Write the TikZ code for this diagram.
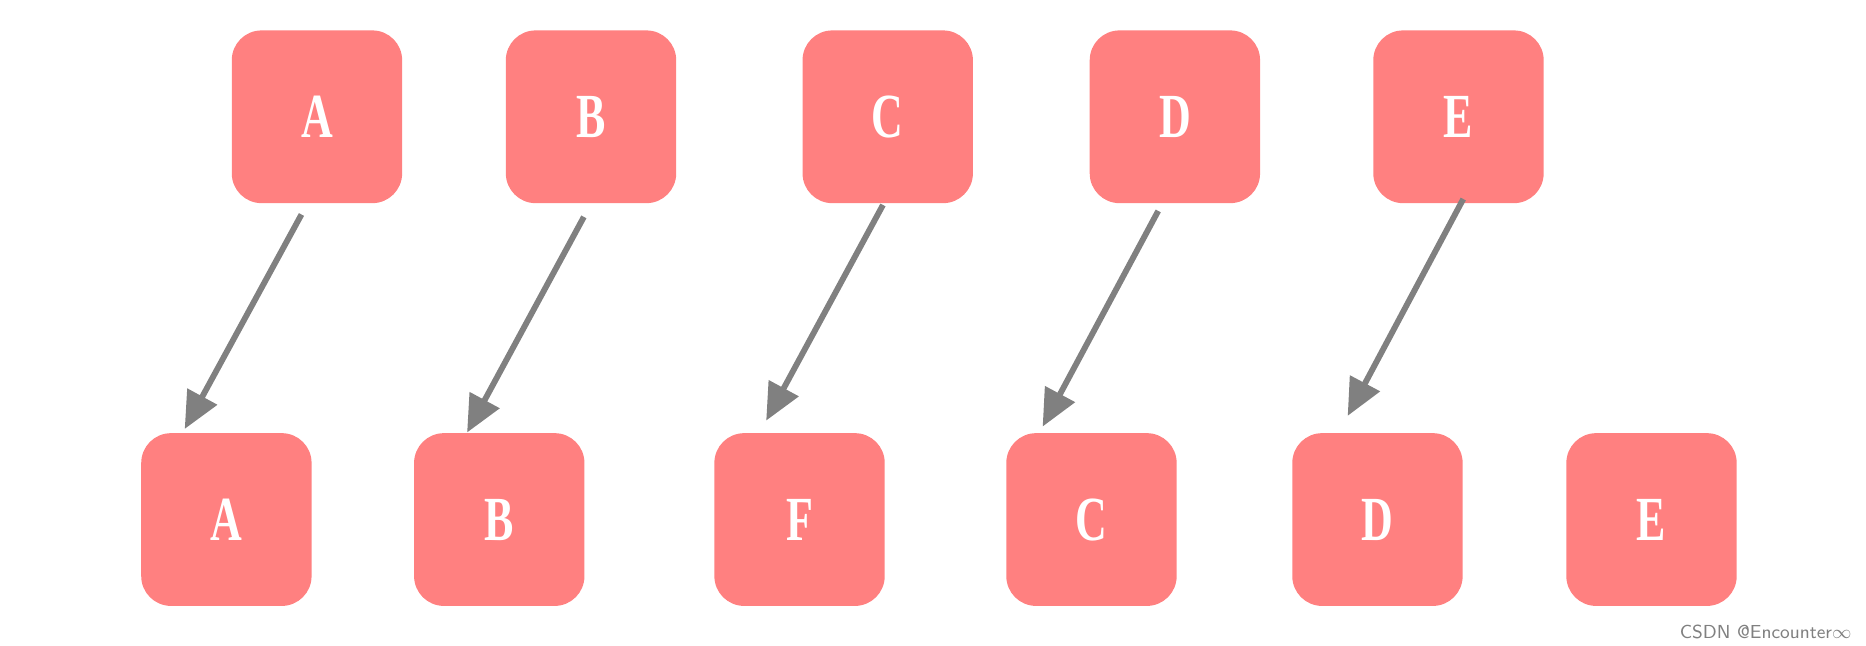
\documentclass[tikz,border=0pt]{standalone}
\usepackage{fontspec}
\setmainfont{Liberation Serif}
\usetikzlibrary{arrows.meta,calc}
\definecolor{boxred}{HTML}{FF8080}
\definecolor{arrgray}{HTML}{808080}
\begin{document}
\begin{tikzpicture}[x=0.02cm,y=-0.02cm,
  box/.style={fill=boxred,draw=none,rounded corners=0.5cm,minimum width=2.86cm,minimum height=2.9cm,inner sep=0pt,text=white,font=\fontsize{30}{30}\selectfont\bfseries},
  lbl/.style={xscale=0.75},
  arr/.style={draw=arrgray,line width=2.8pt,-{Triangle[length=0.62cm,width=0.55cm]}}]
\useasboundingbox (0,0) rectangle (1566,542);
\node[box] (ta) at (266,98) {\scalebox{0.7}[1]{A}};
\node[box] (tb) at (496,98) {\scalebox{0.7}[1]{B}};
\node[box] (tc) at (745,98) {\scalebox{0.7}[1]{C}};
\node[box] (td) at (986,98) {\scalebox{0.7}[1]{D}};
\node[box] (te) at (1224,98) {\scalebox{0.7}[1]{E}};
\node[box] (ba) at (190,436) {\scalebox{0.7}[1]{A}};
\node[box] (bb) at (419,436) {\scalebox{0.7}[1]{B}};
\node[box] (bf) at (671,436) {\scalebox{0.7}[1]{F}};
\node[box] (bc) at (916,436) {\scalebox{0.7}[1]{C}};
\node[box] (bd) at (1156,436) {\scalebox{0.7}[1]{D}};
\node[box] (be) at (1386,436) {\scalebox{0.7}[1]{E}};
\node[font=\fontsize{9}{9}\selectfont\sffamily,text=gray,anchor=east] (wm) at (1560,530) {CSDN @Encounter$\infty$};
\coordinate (a1) at ($(ta)+(-13,82)$); \coordinate (a2) at ($(ba)+(-35,-76)$);
\coordinate (b1) at ($(tb)+(-6,84)$); \coordinate (b2) at ($(bb)+(-27,-73)$);
\coordinate (c1) at ($(tc)+(-4,74)$); \coordinate (c2) at ($(bf)+(-28,-83)$);
\coordinate (d1) at ($(td)+(-14,79)$); \coordinate (d2) at ($(bc)+(-41,-78)$);
\coordinate (e1) at ($(te)+(4,69)$); \coordinate (e2) at ($(bd)+(-25,-87)$);
\draw[arr] (a1) -- (a2);
\draw[arr] (b1) -- (b2);
\draw[arr] (c1) -- (c2);
\draw[arr] (d1) -- (d2);
\draw[arr] (e1) -- (e2);
\end{tikzpicture}
\end{document}
